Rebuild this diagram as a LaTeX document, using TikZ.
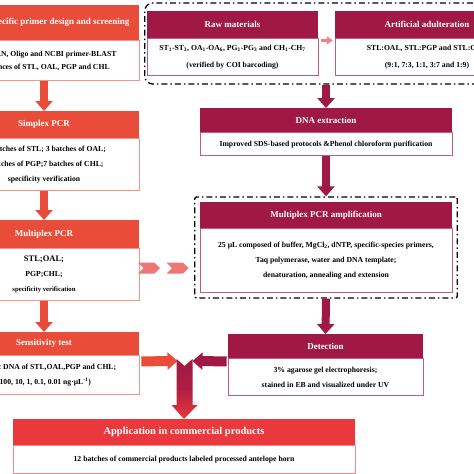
\documentclass[tikz,border=0pt]{standalone}
\usepackage{fontspec}
\setmainfont{Liberation Serif}
\usetikzlibrary{positioning,arrows.meta,fit,shapes.symbols}
\definecolor{redL}{RGB}{234,76,58}
\definecolor{crim}{RGB}{160,24,68}
\definecolor{appred}{RGB}{234,56,60}
\definecolor{chev}{RGB}{238,118,118}
\definecolor{pinkA}{RGB}{242,128,140}
\tikzset{
  hd/.style={anchor=north,minimum height=27,inner sep=0,text=white,
    font=\fontsize{9}{10}\selectfont\bfseries},
  hdL/.style={hd,fill=redL,minimum width=190},
  hdR/.style={hd,fill=crim},
  bd/.style={below=0pt of #1,inner sep=0,align=center,fill=white,line width=0.6,
    font=\fontsize{7.7}{15}\selectfont\bfseries},
  bdL/.style={bd=#1,draw=redL!60,minimum width=190},
  bdR/.style={bd=#1,draw=crim!70},
  grp/.style={draw,line width=1.3,dash pattern=on 6pt off 3pt on 1.5pt off 3pt},
  arrL/.style={draw=redL,line width=8,-{Triangle[width=17pt,length=10pt]}},
  arrR/.style={draw=crim,line width=8,-{Triangle[width=17pt,length=10pt]}},
  chevron/.style={shape=signal,signal from=west,signal to=east,fill=chev,
    minimum width=22,minimum height=11,inner sep=0}
}
\begin{document}
\begin{tikzpicture}[x=1pt,y=-1pt]
\useasboundingbox (0,0) rectangle (474,474);
\clip (0,0) rectangle (474,474);
% left column
\node[hdL,minimum height=35] (spsHead) at (44,5) {Species-specific primer design and screening};
\node[bdL=spsHead,minimum height=40] (spsBody) {DNAMAN, Oligo and NCBI primer-BLAST\\[-2pt]
  Sequences of STL, OAL, PGP and CHL};
\node[hdL] (simHead) at (44,111) {Simplex PCR};
\node[bdL=simHead,minimum height=52] (simBody) {10 batches of STL; 3 batches of OAL;\\
  3 batches of PGP;7 batches of CHL;\\ specificity verification};
\node[hdL,minimum height=28] (mplHead) at (44,220) {Multiplex PCR};
\node[bdL=mplHead,minimum height=52] (mplBody) {\fontsize{8.5}{15}\selectfont STL;OAL;\\
  PGP;CHL;\\ \fontsize{6.7}{15}\selectfont specificity verification};
\node[hdL,minimum height=23] (senHead) at (44,332) {Sensitivity test};
\node[bdL=senHead,minimum height=39] (senBody) {Genomic DNA of STL,OAL,PGP and CHL;\\
  (100, 10, 1, 0.1, 0.01 ng·μL\textsuperscript{-1})};
% right column
\node[hdR,minimum width=171] (rawHead) at (232.5,11) {Raw materials};
\node[bdR=rawHead,minimum width=171,minimum height=37] (rawBody) {ST\textsubscript{1}-ST\textsubscript{3}, OA\textsubscript{1}-OA\textsubscript{6}, PG\textsubscript{1}-PG\textsubscript{3} and CH\textsubscript{1}-CH\textsubscript{7}\\[2pt]
  (verified by COI barcoding)};
\node[hdR,minimum width=184] (adHead) at (427,11) {Artificial adulteration};
\node[bdR=adHead,minimum width=184,minimum height=37] (adBody) {STL:OAL, STL:PGP and STL:CHL\\[2pt]
  (9:1, 7:3, 1:1, 3:7 and 1:9)};
\node[grp,rounded corners=8,inner xsep=2,inner ysep=8,fit=(rawHead)(adBody)] (topGroup) {};
\node[hdR,minimum width=252,minimum height=24] (dnaHead) at (326,108) {DNA extraction};
\node[bdR=dnaHead,minimum width=252,minimum height=23] (dnaBody) {Improved SDS-based protocols \&Phenol chloroform purification};
\node[hdR,minimum width=252,minimum height=26] (ampHead) at (326,202) {Multiplex PCR amplification};
\node[bdR=ampHead,minimum width=252,minimum height=64] (ampBody) {25 μL composed of buffer, MgCl\textsubscript{2}, dNTP, specific-species primers,\\
  Taq polymerase, water and DNA template;\\ denaturation, annealing and extension};
\node[grp,rounded corners=2,inner sep=5,fit=(ampHead)(ampBody)] (ampGroup) {};
\node[hdR,minimum width=195,minimum height=24] (detHead) at (325.5,334) {Detection};
\node[bdR=detHead,minimum width=195,minimum height=37] (detBody) {3\% agarose gel electrophoresis;\\
  stained in EB and visualized under UV};
% application
\node[hd,fill=appred,minimum width=342,minimum height=26,font=\fontsize{10.5}{12}\selectfont\bfseries] (appHead) at (184,419) {Application in commercial products};
\node[bd=appHead,draw=appred!60,minimum width=342,minimum height=28] (appBody) {12 batches of commercial products labeled processed antelope horn};
% connectors
\draw[arrL] (spsBody.south) -- (simHead.north);
\draw[arrL] (simBody.south) -- (mplHead.north);
\draw[arrL] (mplBody.south) -- (senHead.north);
\draw[draw=pinkA,line width=3,-{Triangle[width=8pt,length=6pt]}] ([shift={(3pt,-2pt)}]rawHead.south east) -- ([shift={(-2pt,-2pt)}]adHead.south west);
\draw[arrR] (topGroup.south -| dnaHead.north) -- (dnaHead.north);
\draw[arrR] (dnaBody.south) -- (ampGroup.north);
\draw[arrR] (ampGroup.south) -- (detHead.north);
\node[chevron] (chevA) at (149,268) {};
\node[chevron] (chevB) at (177.5,268) {};
\coordinate (meet) at (184.5,361);
\draw[arrL,line width=10] ([shift={(2pt,-6pt)}]senBody.north east) -- ([xshift=-7pt]meet);
\draw[arrR,line width=10] ([shift={(-1pt,-3pt)}]detBody.north west) -- ([xshift=8pt]meet);
\shade[top color=crim,bottom color=appred,middle color=crim!80!appred]
  (176.5,359) -- (184.5,366) -- (192.5,359) -- (192.5,405) -- (197.5,405)
  -- (appHead.north) -- (171.5,405) -- (176.5,405) -- cycle;
\end{tikzpicture}
\end{document}
